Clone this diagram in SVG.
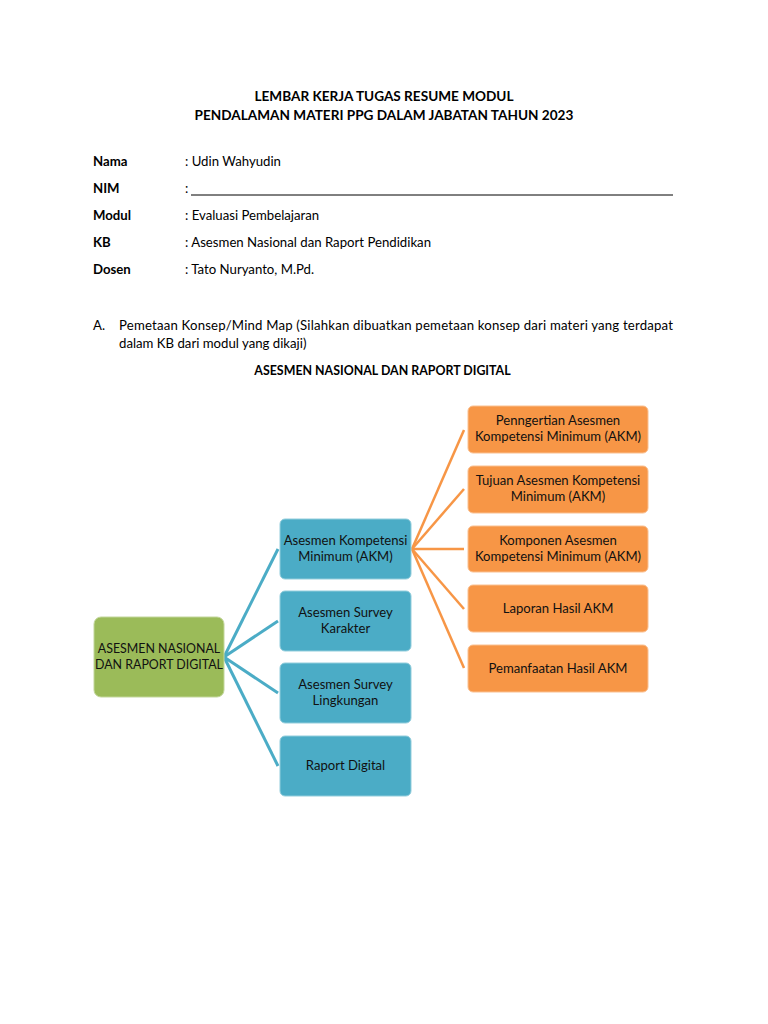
<svg xmlns="http://www.w3.org/2000/svg" width="768" height="1024" viewBox="0 0 768 1024">
<style>
text{font-family:Lato,"Open Sans",sans-serif;fill:#000;font-size:13.2px}
.b{font-weight:bold}
.c{text-anchor:middle}
.h{font-size:13.6px}
.s{font-size:12.4px}
.n{font-size:13.1px;text-anchor:middle;fill:#111}
.r{font-size:12.4px}
.g{fill:#9BBB59;stroke:#C2D69B;stroke-width:1}
.t{fill:#4BACC6;stroke:#92CDDC;stroke-width:1}
.o{fill:#F79646;stroke:#FAC090;stroke-width:1}
.lt{stroke:#4BACC6;stroke-width:3;fill:none}
.lo{stroke:#F79646;stroke-width:2.5;fill:none}
</style>
<rect width="768" height="1024" fill="#fff"/>
<g id="header">
<text class="b c h" x="384" y="101">LEMBAR KERJA TUGAS RESUME MODUL</text>
<text class="b c h" x="384" y="120">PENDALAMAN MATERI PPG DALAM JABATAN TAHUN 2023</text>
<text class="b" x="93" y="166">Nama</text><text x="185" y="166">: Udin Wahyudin</text>
<text class="b" x="93" y="193">NIM</text><text x="185" y="193">:</text>
<line x1="191" y1="195" x2="673" y2="195" stroke="#000" stroke-width="1"/>
<text class="b" x="93" y="220">Modul</text><text x="185" y="220">: Evaluasi Pembelajaran</text>
<text class="b" x="93" y="247">KB</text><text x="185" y="247">: Asesmen Nasional dan Raport Pendidikan</text>
<text class="b" x="93" y="274">Dosen</text><text x="185" y="274">: Tato Nuryanto, M.Pd.</text>
<text x="93" y="330">A.</text>
<text x="119" y="330" textLength="554" lengthAdjust="spacing">Pemetaan Konsep/Mind Map (Silahkan dibuatkan pemetaan konsep dari materi yang terdapat</text>
<text x="119" y="348">dalam KB dari modul yang dikaji)</text>
<text class="b c s" x="382.5" y="375">ASESMEN NASIONAL DAN RAPORT DIGITAL</text>
</g>
<g id="connectors">
<line class="lt" x1="224" y1="657" x2="278" y2="549"/>
<line class="lt" x1="224" y1="657" x2="278" y2="621"/>
<line class="lt" x1="224" y1="657" x2="278" y2="693"/>
<line class="lt" x1="224" y1="657" x2="278" y2="766"/>
<line class="lo" x1="412" y1="549" x2="464" y2="430"/>
<line class="lo" x1="412" y1="549" x2="464" y2="489"/>
<line class="lo" x1="412" y1="549" x2="464" y2="549"/>
<line class="lo" x1="412" y1="549" x2="464" y2="609"/>
<line class="lo" x1="412" y1="549" x2="464" y2="668"/>
</g>
<g id="root"><rect class="g" x="94" y="617" width="130" height="80" rx="7"/>
<text class="n r" x="159" y="653">ASESMEN NASIONAL</text><text class="n r" x="159" y="669">DAN RAPORT DIGITAL</text></g>
<g id="akm"><rect class="t" x="280" y="519" width="131" height="60" rx="5"/>
<text class="n" x="345.5" y="545">Asesmen Kompetensi</text><text class="n" x="345.5" y="561">Minimum (AKM)</text></g>
<g id="ask"><rect class="t" x="280" y="591" width="131" height="60" rx="5"/>
<text class="n" x="345.5" y="617">Asesmen Survey</text><text class="n" x="345.5" y="633">Karakter</text></g>
<g id="asl"><rect class="t" x="280" y="663" width="131" height="60" rx="5"/>
<text class="n" x="345.5" y="689">Asesmen Survey</text><text class="n" x="345.5" y="705">Lingkungan</text></g>
<g id="rd"><rect class="t" x="280" y="736" width="131" height="60" rx="5"/>
<text class="n" x="345.5" y="770">Raport Digital</text></g>
<g id="o1"><rect class="o" x="468" y="406" width="180" height="47" rx="5"/>
<text class="n" x="558" y="425">Penngertian Asesmen</text><text class="n" x="558" y="441">Kompetensi Minimum (AKM)</text></g>
<g id="o2"><rect class="o" x="468" y="466" width="180" height="47" rx="5"/>
<text class="n" x="558" y="485">Tujuan Asesmen Kompetensi</text><text class="n" x="558" y="501">Minimum (AKM)</text></g>
<g id="o3"><rect class="o" x="468" y="526" width="180" height="46" rx="5"/>
<text class="n" x="558" y="545">Komponen Asesmen</text><text class="n" x="558" y="561">Kompetensi Minimum (AKM)</text></g>
<g id="o4"><rect class="o" x="468" y="585" width="180" height="47" rx="5"/>
<text class="n" x="558" y="613">Laporan Hasil AKM</text></g>
<g id="o5"><rect class="o" x="468" y="645" width="180" height="47" rx="5"/>
<text class="n" x="558" y="673">Pemanfaatan Hasil AKM</text></g>
</svg>
